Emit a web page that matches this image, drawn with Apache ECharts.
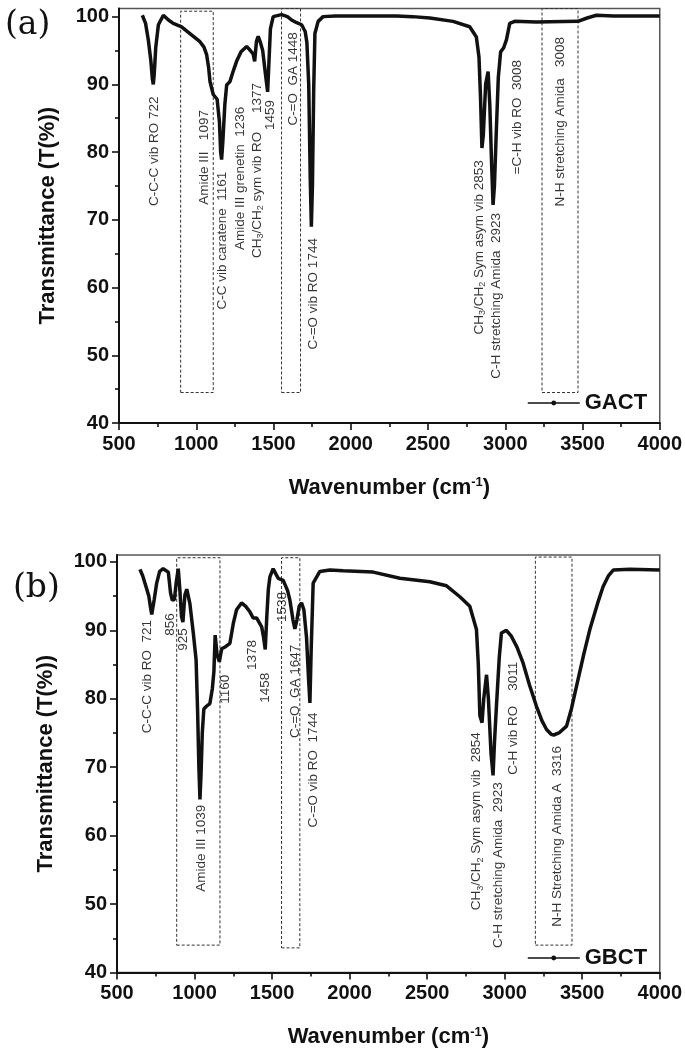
<!DOCTYPE html>
<html>
<head>
<meta charset="utf-8">
<script src="https://cdn.jsdelivr.net/npm/echarts@6/dist/echarts.min.js"></script>
<style>html,body{margin:0;padding:0;background:#fff}#c{width:685px;height:1049px}</style>
</head>
<body>
<div id="c"></div>
<script>
// ---------- data ----------
const yMajorTicks = [40, 50, 60, 70, 80, 90, 100];
const yMinorTicks = [45, 55, 65, 75, 85, 95];

// GACT spectrum [wavenumber, transmittance]
const gactSpectrum = [
  [651,100.2],[672,99],[690,96.5],[706,93.5],[716,90.8],[722,90.0],[728,91.5],[738,95.5],[755,98.8],[787,100.2],
  [820,99.5],[851,99.0],[905,98.5],[959,97.5],[1024,96.3],[1050,95.5],[1067,94.4],[1080,92.5],[1089,90.4],[1110,88.5],
  [1135,87.8],[1150,84.5],[1158,80],[1164,78.9],[1172,81.5],[1185,87],[1197,89.9],[1218,90.4],[1240,92],[1261,93.4],
  [1290,94.8],[1326,95.6],[1350,95],[1368,94.5],[1378,93.4],[1390,96.4],[1401,97.1],[1415,96.2],[1430,95],[1448,91.5],
  [1462,88.9],[1470,93],[1480,98.2],[1498,100.0],[1552,100.3],[1590,100.0],[1617,99.5],[1650,99.1],[1682,98.8],[1705,97.8],
  [1716,96.2],[1728,90],[1738,76],[1745,69],[1752,75],[1760,89],[1768,97.5],[1789,99.3],[1821,100.0],[1900,100.1],
  [2100,100.1],[2298,100.1],[2400,100.0],[2512,99.8],[2662,99.3],[2770,98.5],[2813,97],[2830,94],[2840,88],[2849,80.6],
  [2858,82.5],[2873,90],[2889,91.9],[2900,87],[2912,78],[2921,72.2],[2930,75],[2942,83],[2955,91],[2970,94.8],
  [2990,95.4],[3008,96.6],[3029,99.0],[3061,99.3],[3200,99.2],[3470,99.3],[3530,99.8],[3590,100.2],[3700,100.1],[4000,100.1]
];

// GBCT spectrum [wavenumber, transmittance]
const gbctSpectrum = [
  [648,98.9],[665,98],[680,96.9],[705,95],[715,93.5],[724,92.3],[740,94.5],[756,96.9],[775,98.6],[798,99.0],
  [831,98.5],[845,95.5],[856,94.4],[870,94.5],[882,97],[895,99.0],[905,96],[916,92.0],[925,91.2],[938,95.2],
  [950,96],[960,95.8],[970,93.9],[992,89.6],[1010,85.7],[1020,78],[1028,70],[1035,65.3],[1042,69],[1050,75],
  [1060,78.5],[1077,78.9],[1099,79.3],[1115,81.5],[1125,84],[1133,89.3],[1145,86.5],[1160,85.4],[1175,87.3],[1200,87.6],
  [1228,88.1],[1250,91],[1271,93.0],[1303,94.0],[1330,93.5],[1357,92.7],[1378,91.8],[1400,91.8],[1433,90.5],[1445,89],
  [1456,87.2],[1466,92],[1476,96],[1486,97.8],[1507,99.0],[1525,98.2],[1540,97.6],[1572,97.3],[1600,95.8],[1615,94.4],
  [1635,91.5],[1647,90.2],[1660,91.5],[1675,93.5],[1690,94.0],[1705,93],[1722,89],[1735,83],[1744,79.4],[1752,87],
  [1765,96.9],[1808,98.6],[1873,98.8],[1958,98.7],[2152,98.5],[2324,97.6],[2517,97.1],[2625,96.5],[2711,94.9],[2775,93.5],
  [2818,90.1],[2830,85],[2840,77.5],[2854,76.5],[2865,80],[2883,83.5],[2895,80],[2912,72],[2925,68.8],[2935,74],
  [2947,79.0],[2965,86],[2979,89.6],[3011,90.0],[3044,89.1],[3080,87.5],[3119,85.2],[3160,82],[3205,78.9],[3240,76.8],
  [3270,75.5],[3300,74.8],[3316,74.7],[3350,75],[3399,76],[3430,78.5],[3463,81.8],[3510,86.5],[3549,90.1],[3600,94],[3635,96.4],
  [3670,98],[3700,98.8],[3807,98.9],[4000,98.8]
];

// dashed boxes [x1, y1, x2, y2]
const boxesA = [[899,44.5,1110,100.8],[1552,44.5,1675,101.2],[3238,44.5,3471,101.2]];
const boxesB = [[885,44.0,1164,100.6],[1561,43.6,1679,100.6],[3198,44.0,3434,100.7]];

// annotations [wavenumber, transmittance at text end, text]
const notesA = [
  [726, 88.2, 'C-C-C vib RO 722'],
  [1050, 86.2, 'Amide III   1097'],
  [1166, 77.1, 'C-C vib caratene  1161'],
  [1283, 86.7, 'Amide III grenetin  1236'],
  [1393, 90.2, 'CH{s|3}/CH{s|2} sym vib RO     1377'],
  [1477, 87.7, '1459'],
  [1625, 97.7, 'C-=O  GA 1448'],
  [1755, 67.3, 'C-=O vib RO 1744'],
  [2829, 78.8, 'CH{s|3}/CH{s|2} Sym asym vib 2853'],
  [2945, 71.0, 'C-H stretching Amida  2923'],
  [3081, 93.6, '=C-H vib RO  3008'],
  [3353, 97.0, 'N-H stretching Amida   3008']
];
const notesB = [
  [693, 91.5, 'C-C-C vib RO  721'],
  [842, 92.5, '856'],
  [925, 90.3, '925'],
  [1041, 64.5, 'Amide III 1039'],
  [1196, 83.5, '1160'],
  [1370, 88.6, '1378'],
  [1454, 83.8, '1458'],
  [1564, 95.6, '1538'],
  [1647, 87.9, 'C-=O  GA 1647'],
  [1763, 78.0, 'C-=O vib RO  1744'],
  [2820, 75.1, 'CH{s|3}/CH{s|2} Sym asym vib  2854'],
  [2956, 67.8, 'C-H stretching Amida  2923'],
  [3053, 85.4, 'C-H vib RO    3011'],
  [3336, 73.1, 'N-H Stretching Amida A  3316']
];

// ---------- chart ----------
const FONT = 'Liberation Sans';
const INK = '#111';

function xAxisFor(grid) {
  return {
    type: 'value', gridIndex: grid, min: 500, max: 4000, interval: 500,
    axisLine: {show: true, onZero: false, lineStyle: {color: INK, width: 2}},
    axisTick: {show: true, inside: false, length: 7, lineStyle: {color: INK, width: 1.6}},
    minorTick: {show: true, splitNumber: 2, length: 4, lineStyle: {color: INK, width: 1.6}},
    splitLine: {show: false}, minorSplitLine: {show: false},
    axisLabel: {fontFamily: FONT, fontSize: 20, fontWeight: 'bold', color: INK, margin: 11, formatter: v => String(v)},
    name: 'Wavenumber (cm{sup|-1})', nameLocation: 'middle', nameGap: 53,
    nameTextStyle: {fontFamily: FONT, fontSize: 22, fontWeight: 'bold', color: INK,
      rich: {sup: {fontFamily: FONT, fontSize: 13, fontWeight: 'bold', color: INK, verticalAlign: 'top', padding: [0, 0, 10, 0]}}}
  };
}
function yMain(grid, max) {
  return {
    type: 'value', gridIndex: grid, min: 40, max: max,
    axisLine: {show: true, onZero: false, lineStyle: {color: INK, width: 2}},
    axisTick: {show: true, inside: false, length: 7, customValues: yMajorTicks, lineStyle: {color: INK, width: 1.6}},
    splitLine: {show: false},
    axisLabel: {customValues: yMajorTicks, fontFamily: FONT, fontSize: 20, fontWeight: 'bold', color: INK, margin: 10, formatter: v => String(v)},
    name: 'Transmittance (T(%))', nameLocation: 'middle', nameRotate: 90, nameGap: 60,
    nameTextStyle: {fontFamily: FONT, fontSize: 22, fontWeight: 'bold', color: INK}
  };
}
function yMinor(grid, max) {
  return {
    type: 'value', gridIndex: grid, min: 40, max: max, position: 'left',
    axisLine: {show: false},
    axisTick: {show: true, inside: false, length: 4, customValues: yMinorTicks, lineStyle: {color: INK, width: 1.6}},
    axisLabel: {show: false}, splitLine: {show: false}
  };
}
function boxArea(boxes) {
  return {
    silent: true,
    itemStyle: {color: 'rgba(0,0,0,0)', borderColor: '#333', borderWidth: 1, borderType: [3, 2]},
    label: {show: false},
    data: boxes.map(b => [{xAxis: b[0], yAxis: b[1]}, {xAxis: b[2], yAxis: b[3]}])
  };
}
function notesSeries(notes, xi, yi) {
  return {
    type: 'scatter', xAxisIndex: xi, yAxisIndex: yi, silent: true,
    symbolSize: 1, itemStyle: {color: 'rgba(0,0,0,0)'},
    data: notes,
    label: {
      show: true, position: 'inside', rotate: 90, align: 'right', verticalAlign: 'middle',
      fontFamily: FONT, fontSize: 13.5, color: '#000',
      formatter: p => p.value[2],
      rich: {s: {fontFamily: FONT, fontSize: 9, color: '#000', padding: [7, 0, 0, 0]}}
    },
    emphasis: {disabled: true}
  };
}
function spectrum(name, data, xi, yi, boxes) {
  return {
    name: name, type: 'line', xAxisIndex: xi, yAxisIndex: yi, data: data,
    symbol: 'circle', symbolSize: 5, showSymbol: false, silent: true,
    lineStyle: {color: INK, width: 3.5}, itemStyle: {color: INK},
    emphasis: {disabled: true},
    markArea: boxArea(boxes)
  };
}
function legendFor(name, top) {
  return {
    data: [name], left: 522, top: top, itemWidth: 52, itemHeight: 6, selectedMode: false,
    lineStyle: {width: 1.5, color: INK}, itemStyle: {color: INK},
    textStyle: {fontFamily: FONT, fontSize: 22, fontWeight: 'bold', color: INK}
  };
}

const chart = echarts.init(document.getElementById('c'), null, {renderer: 'canvas'});
chart.setOption({
  animation: false,
  backgroundColor: '#fff',
  title: [
    {text: '(a)', left: 0, top: 4, textStyle: {fontFamily: 'DejaVu Serif', fontSize: 33, fontWeight: 'normal', color: INK}},
    {text: '(b)', left: 8, top: 567, textStyle: {fontFamily: 'DejaVu Serif', fontSize: 33, fontWeight: 'normal', color: INK}}
  ],
  grid: [
    {left: 119, right: 25, top: 8.5, bottom: 626, show: true, borderColor: '#555', borderWidth: 1.5},
    {left: 117, right: 25, top: 555, bottom: 74.5, show: true, borderColor: '#555', borderWidth: 1.5}
  ],
  legend: [legendFor('GACT', 387), legendFor('GBCT', 942)],
  xAxis: [xAxisFor(0), xAxisFor(1)],
  yAxis: [yMain(0, 101.2), yMinor(0, 101.2), yMain(1, 101), yMinor(1, 101)],
  series: [
    spectrum('GACT', gactSpectrum, 0, 0, boxesA),
    notesSeries(notesA, 0, 0),
    spectrum('GBCT', gbctSpectrum, 1, 2, boxesB),
    notesSeries(notesB, 1, 2)
  ]
});
</script>
</body>
</html>
